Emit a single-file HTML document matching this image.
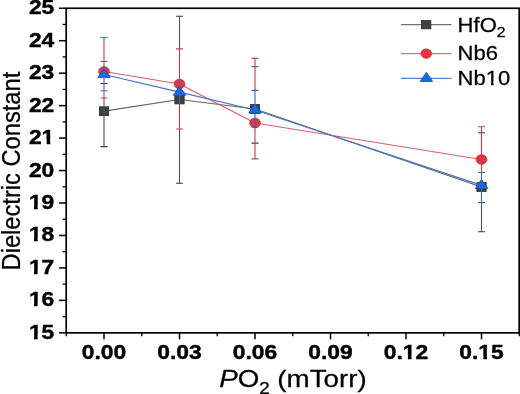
<!DOCTYPE html>
<html><head><meta charset="utf-8"><style>
html,body{margin:0;padding:0;background:#fff;}
svg{display:block;}
text{font-family:"Liberation Sans",Arial,sans-serif;fill:#000;}
.tb{font-weight:bold;font-size:19.5px;font-kerning:none;stroke:#000;stroke-width:0.4px;}
.tt{font-size:23.7px;stroke:#000;stroke-width:0.25px;}
.sub{font-size:16px;}
.tl{font-size:19.5px;stroke:#000;stroke-width:0.25px;}
.lsub{font-size:14px;}
</style></head><body>
<svg width="520" height="394" viewBox="0 0 520 394">
<defs><clipPath id="c1" clipPathUnits="userSpaceOnUse"><rect x="-300" y="-300" width="600" height="296.51"/><rect x="-300.00" y="-3.49" width="278.74" height="43.49"/><rect x="-17.36" y="-3.49" width="3.12" height="43.49"/><rect x="-10.59" y="-3.49" width="310.59" height="43.49"/></clipPath><clipPath id="c2" clipPathUnits="userSpaceOnUse"><rect x="-300" y="-300" width="600" height="296.51"/><rect x="-300.00" y="-3.49" width="278.74" height="43.49"/><rect x="-17.36" y="-3.49" width="3.12" height="43.49"/><rect x="-10.59" y="-3.49" width="310.59" height="43.49"/></clipPath><clipPath id="c3" clipPathUnits="userSpaceOnUse"><rect x="-300" y="-300" width="600" height="296.51"/><rect x="-300.00" y="-3.49" width="278.74" height="43.49"/><rect x="-17.36" y="-3.49" width="3.12" height="43.49"/><rect x="-10.59" y="-3.49" width="310.59" height="43.49"/></clipPath><clipPath id="c4" clipPathUnits="userSpaceOnUse"><rect x="-300" y="-300" width="600" height="296.51"/><rect x="-300.00" y="-3.49" width="278.74" height="43.49"/><rect x="-17.36" y="-3.49" width="3.12" height="43.49"/><rect x="-10.59" y="-3.49" width="310.59" height="43.49"/></clipPath><clipPath id="c5" clipPathUnits="userSpaceOnUse"><rect x="-300" y="-300" width="600" height="296.51"/><rect x="-300.00" y="-3.49" width="278.74" height="43.49"/><rect x="-17.36" y="-3.49" width="3.12" height="43.49"/><rect x="-10.59" y="-3.49" width="310.59" height="43.49"/></clipPath><clipPath id="c6" clipPathUnits="userSpaceOnUse"><rect x="-300" y="-300" width="600" height="296.51"/><rect x="-300.00" y="-3.49" width="289.58" height="43.49"/><rect x="-6.51" y="-3.49" width="3.12" height="43.49"/><rect x="0.26" y="-3.49" width="299.74" height="43.49"/></clipPath><clipPath id="c7" clipPathUnits="userSpaceOnUse"><rect x="-300" y="-300" width="600" height="296.51"/><rect x="-300.00" y="-3.49" width="297.71" height="43.49"/><rect x="1.62" y="-3.49" width="3.12" height="43.49"/><rect x="8.39" y="-3.49" width="291.61" height="43.49"/></clipPath><clipPath id="c8" clipPathUnits="userSpaceOnUse"><rect x="-300" y="-300" width="600" height="296.51"/><rect x="-300.00" y="-3.49" width="297.71" height="43.49"/><rect x="1.62" y="-3.49" width="3.12" height="43.49"/><rect x="8.39" y="-3.49" width="291.61" height="43.49"/></clipPath><clipPath id="c9" clipPathUnits="userSpaceOnUse"><rect x="-300" y="-300" width="600" height="297.04"/><rect x="-300.00" y="-2.96" width="325.61" height="42.96"/><rect x="29.61" y="-2.96" width="2.16" height="42.96"/><rect x="35.62" y="-2.96" width="264.38" height="42.96"/></clipPath></defs>
<rect width="520" height="394" fill="#fff"/>
<rect x="66.2" y="8.25" width="453.00000000000006" height="324.6" fill="none" stroke="#000" stroke-width="1.7"/>
<line x1="59.0" y1="332.85" x2="66.2" y2="332.85" stroke="#000" stroke-width="1.5"/>
<line x1="62.6" y1="316.62" x2="66.2" y2="316.62" stroke="#000" stroke-width="1.3"/>
<line x1="59.0" y1="300.39" x2="66.2" y2="300.39" stroke="#000" stroke-width="1.5"/>
<line x1="62.6" y1="284.16" x2="66.2" y2="284.16" stroke="#000" stroke-width="1.3"/>
<line x1="59.0" y1="267.93" x2="66.2" y2="267.93" stroke="#000" stroke-width="1.5"/>
<line x1="62.6" y1="251.70" x2="66.2" y2="251.70" stroke="#000" stroke-width="1.3"/>
<line x1="59.0" y1="235.47" x2="66.2" y2="235.47" stroke="#000" stroke-width="1.5"/>
<line x1="62.6" y1="219.24" x2="66.2" y2="219.24" stroke="#000" stroke-width="1.3"/>
<line x1="59.0" y1="203.01" x2="66.2" y2="203.01" stroke="#000" stroke-width="1.5"/>
<line x1="62.6" y1="186.78" x2="66.2" y2="186.78" stroke="#000" stroke-width="1.3"/>
<line x1="59.0" y1="170.55" x2="66.2" y2="170.55" stroke="#000" stroke-width="1.5"/>
<line x1="62.6" y1="154.32" x2="66.2" y2="154.32" stroke="#000" stroke-width="1.3"/>
<line x1="59.0" y1="138.09" x2="66.2" y2="138.09" stroke="#000" stroke-width="1.5"/>
<line x1="62.6" y1="121.86" x2="66.2" y2="121.86" stroke="#000" stroke-width="1.3"/>
<line x1="59.0" y1="105.63" x2="66.2" y2="105.63" stroke="#000" stroke-width="1.5"/>
<line x1="62.6" y1="89.40" x2="66.2" y2="89.40" stroke="#000" stroke-width="1.3"/>
<line x1="59.0" y1="73.17" x2="66.2" y2="73.17" stroke="#000" stroke-width="1.5"/>
<line x1="62.6" y1="56.94" x2="66.2" y2="56.94" stroke="#000" stroke-width="1.3"/>
<line x1="59.0" y1="40.71" x2="66.2" y2="40.71" stroke="#000" stroke-width="1.5"/>
<line x1="62.6" y1="24.48" x2="66.2" y2="24.48" stroke="#000" stroke-width="1.3"/>
<line x1="59.0" y1="8.25" x2="66.2" y2="8.25" stroke="#000" stroke-width="1.5"/>
<line x1="104.00" y1="332.85" x2="104.00" y2="339.35" stroke="#000" stroke-width="1.5"/>
<line x1="179.50" y1="332.85" x2="179.50" y2="339.35" stroke="#000" stroke-width="1.5"/>
<line x1="255.00" y1="332.85" x2="255.00" y2="339.35" stroke="#000" stroke-width="1.5"/>
<line x1="330.50" y1="332.85" x2="330.50" y2="339.35" stroke="#000" stroke-width="1.5"/>
<line x1="406.00" y1="332.85" x2="406.00" y2="339.35" stroke="#000" stroke-width="1.5"/>
<line x1="481.50" y1="332.85" x2="481.50" y2="339.35" stroke="#000" stroke-width="1.5"/>
<line x1="66.25" y1="332.85" x2="66.25" y2="336.25" stroke="#000" stroke-width="1.3"/>
<line x1="141.75" y1="332.85" x2="141.75" y2="336.25" stroke="#000" stroke-width="1.3"/>
<line x1="217.25" y1="332.85" x2="217.25" y2="336.25" stroke="#000" stroke-width="1.3"/>
<line x1="292.75" y1="332.85" x2="292.75" y2="336.25" stroke="#000" stroke-width="1.3"/>
<line x1="368.25" y1="332.85" x2="368.25" y2="336.25" stroke="#000" stroke-width="1.3"/>
<line x1="443.75" y1="332.85" x2="443.75" y2="336.25" stroke="#000" stroke-width="1.3"/>
<line x1="519.26" y1="332.85" x2="519.26" y2="336.25" stroke="#000" stroke-width="1.3"/>
<polyline points="104.00,111.20 179.50,99.50 255.00,109.00 481.50,187.00" fill="none" stroke="#626262" stroke-width="1.2" stroke-linejoin="round"/>
<rect x="99.35" y="106.80" width="9.30" height="8.80" fill="#3f3f3f" stroke="#2a2a2a" stroke-width="0.8"/>
<rect x="174.85" y="95.10" width="9.30" height="8.80" fill="#3f3f3f" stroke="#2a2a2a" stroke-width="0.8"/>
<rect x="250.35" y="104.60" width="9.30" height="8.80" fill="#3f3f3f" stroke="#2a2a2a" stroke-width="0.8"/>
<rect x="476.85" y="182.60" width="9.30" height="8.80" fill="#3f3f3f" stroke="#2a2a2a" stroke-width="0.8"/>
<path d="M104.00,98.00V146.60M179.50,16.20V48.90M179.50,129.00V183.30M481.50,202.50V231.80" stroke="#505050" stroke-width="1.1" fill="none"/>
<path d="M100.50,83.50H107.50M100.50,146.60H107.50M176.00,16.20H183.00M176.00,183.30H183.00M251.50,66.75H258.50M251.50,143.10H258.50M478.00,132.80H485.00M478.00,231.80H485.00" stroke="#3a3a3a" stroke-width="1.1" fill="none"/>
<polyline points="104.00,71.50 179.50,84.00 255.00,123.00 481.50,159.50" fill="none" stroke="#dc5f6a" stroke-width="1.2" stroke-linejoin="round"/>
<ellipse cx="104.00" cy="71.50" rx="5.35" ry="4.80" fill="#e8343c" stroke="#c42830" stroke-width="0.8"/>
<ellipse cx="179.50" cy="84.00" rx="5.35" ry="4.80" fill="#e8343c" stroke="#c42830" stroke-width="0.8"/>
<ellipse cx="255.00" cy="123.00" rx="5.35" ry="4.80" fill="#e8343c" stroke="#c42830" stroke-width="0.8"/>
<ellipse cx="481.50" cy="159.50" rx="5.35" ry="4.80" fill="#e8343c" stroke="#c42830" stroke-width="0.8"/>
<path d="M104.00,37.50V61.50M104.00,90.80V98.00M179.50,48.90V79.80M179.50,103.00V129.00M255.00,58.40V90.40M255.00,127.00V158.90M481.50,126.80V172.50" stroke="#c43c4c" stroke-width="1.1" fill="none"/>
<path d="M100.50,37.50H107.50M100.50,98.00H107.50M176.00,48.90H183.00M176.00,129.00H183.00M251.50,58.40H258.50M251.50,158.90H258.50M478.00,126.80H485.00M478.00,184.00H485.00" stroke="#b84858" stroke-width="1.1" fill="none"/>
<polyline points="104.00,74.50 179.50,92.20 255.00,110.00 481.50,185.40" fill="none" stroke="#4574c8" stroke-width="1.2" stroke-linejoin="round"/>
<polygon points="104.00,68.30 110.25,77.60 97.75,77.60" fill="#1a6be0" stroke="#1050b8" stroke-width="0.8" stroke-linejoin="miter"/>
<polygon points="179.50,86.00 185.75,95.30 173.25,95.30" fill="#1a6be0" stroke="#1050b8" stroke-width="0.8" stroke-linejoin="miter"/>
<polygon points="255.00,103.80 261.25,113.10 248.75,113.10" fill="#1a6be0" stroke="#1050b8" stroke-width="0.8" stroke-linejoin="miter"/>
<polygon points="481.50,179.20 487.75,188.50 475.25,188.50" fill="#1a6be0" stroke="#1050b8" stroke-width="0.8" stroke-linejoin="miter"/>
<path d="M104.00,61.50V90.80M179.50,79.80V103.00M255.00,90.40V127.00M481.50,172.50V202.50" stroke="#2f66d0" stroke-width="1.1" fill="none"/>
<path d="M100.50,61.50H107.50M100.50,90.80H107.50M251.50,90.40H258.50M251.50,127.00H258.50M478.00,172.50H485.00M478.00,202.50H485.00" stroke="#4560a8" stroke-width="1.1" fill="none"/>
<line x1="401" y1="24.65" x2="451.5" y2="24.65" stroke="#707070" stroke-width="1.3"/>
<line x1="401" y1="53.6" x2="451.5" y2="53.6" stroke="#e07078" stroke-width="1.3"/>
<line x1="401" y1="78.4" x2="451.5" y2="78.4" stroke="#5583d4" stroke-width="1.3"/>
<rect x="421.55" y="20.45" width="9.30" height="8.40" fill="#3f3f3f" stroke="#2a2a2a" stroke-width="0.8"/>
<ellipse cx="426.30" cy="53.60" rx="5.30" ry="4.70" fill="#e8343c" stroke="#c42830" stroke-width="0.8"/>
<polygon points="426.40,72.13 432.70,81.53 420.10,81.53" fill="#1a6be0" stroke="#1050b8" stroke-width="0.8" stroke-linejoin="miter"/>
<text transform="translate(457.6,31.8) scale(1.13,1)" class="tl">HfO<tspan class="lsub" dy="5.5">2</tspan></text>
<text transform="translate(457.6,60.0) scale(1.13,1)" class="tl">Nb6</text>
<text transform="translate(457.60,84.60) scale(1.13,1)" x="0.00" class="tl" clip-path="url(#c9)">Nb10</text>
<text transform="translate(54.30,338.85) scale(1.17,1)" x="-21.69" class="tb" clip-path="url(#c1)">15</text>
<text transform="translate(54.30,306.39) scale(1.17,1)" x="-21.69" class="tb" clip-path="url(#c2)">16</text>
<text transform="translate(54.30,273.93) scale(1.17,1)" x="-21.69" class="tb" clip-path="url(#c3)">17</text>
<text transform="translate(54.30,241.47) scale(1.17,1)" x="-21.69" class="tb" clip-path="url(#c4)">18</text>
<text transform="translate(54.30,209.01) scale(1.17,1)" x="-21.69" class="tb" clip-path="url(#c5)">19</text>
<text transform="translate(54.30,176.55) scale(1.17,1)" x="-21.69" class="tb">20</text>
<text transform="translate(54.30,144.09) scale(1.17,1)" x="-21.69" class="tb" clip-path="url(#c6)">21</text>
<text transform="translate(54.30,111.63) scale(1.17,1)" x="-21.69" class="tb">22</text>
<text transform="translate(54.30,79.17) scale(1.17,1)" x="-21.69" class="tb">23</text>
<text transform="translate(54.30,46.71) scale(1.17,1)" x="-21.69" class="tb">24</text>
<text transform="translate(54.30,14.25) scale(1.17,1)" x="-21.69" class="tb">25</text>
<text transform="translate(104.00,359.30) scale(1.17,1)" x="-18.98" class="tb">0.00</text>
<text transform="translate(179.50,359.30) scale(1.17,1)" x="-18.98" class="tb">0.03</text>
<text transform="translate(255.00,359.30) scale(1.17,1)" x="-18.98" class="tb">0.06</text>
<text transform="translate(330.50,359.30) scale(1.17,1)" x="-18.98" class="tb">0.09</text>
<text transform="translate(406.00,359.30) scale(1.17,1)" x="-18.98" class="tb" clip-path="url(#c7)">0.12</text>
<text transform="translate(481.50,359.30) scale(1.17,1)" x="-18.98" class="tb" clip-path="url(#c8)">0.15</text>
<text transform="translate(19.6,171.1) scale(1.05,1) rotate(-90)" text-anchor="middle" class="tt">Dielectric Constant</text>
<text transform="translate(292.9,387.2) scale(1.17,1)" text-anchor="middle" class="tt"><tspan font-style="italic">P</tspan>O<tspan class="sub" dy="6.5">2</tspan><tspan dy="-6.5"> (mTorr)</tspan></text>
</svg>
</body></html>
